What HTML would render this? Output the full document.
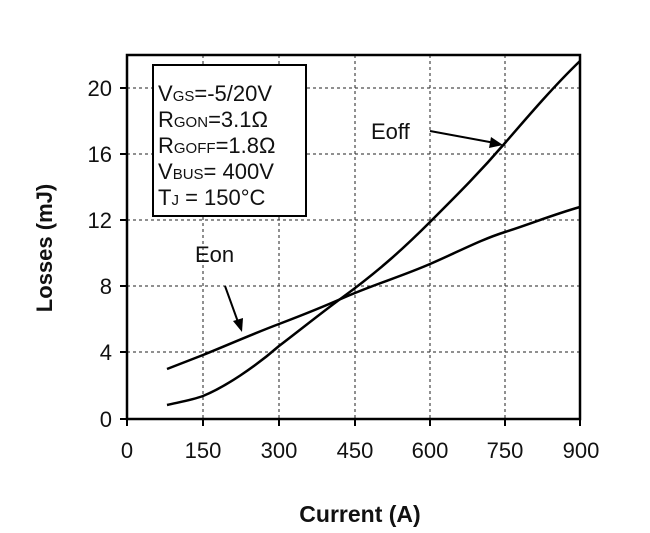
<!DOCTYPE html>
<html><head><meta charset="utf-8"><style>
body{margin:0;background:#fff;}
svg{display:block;font-family:"Liberation Sans",Arial,sans-serif;}
</style></head><body>
<svg width="650" height="533" viewBox="0 0 650 533">
<g stroke="#222" stroke-width="1" stroke-dasharray="3,3">
<line x1="203" y1="55" x2="203" y2="419"/>
<line x1="279" y1="55" x2="279" y2="419"/>
<line x1="355" y1="55" x2="355" y2="419"/>
<line x1="430" y1="55" x2="430" y2="419"/>
<line x1="505" y1="55" x2="505" y2="419"/>
<line x1="127" y1="88" x2="580" y2="88"/>
<line x1="127" y1="154" x2="580" y2="154"/>
<line x1="127" y1="220" x2="580" y2="220"/>
<line x1="127" y1="286" x2="580" y2="286"/>
<line x1="127" y1="352" x2="580" y2="352"/>
</g>
<rect x="127" y="55" width="453" height="364" fill="none" stroke="#000" stroke-width="2.5"/>
<g stroke="#000" stroke-width="2">
<line x1="120" y1="88" x2="127" y2="88"/><line x1="120" y1="154" x2="127" y2="154"/><line x1="120" y1="220" x2="127" y2="220"/><line x1="120" y1="286" x2="127" y2="286"/><line x1="120" y1="352" x2="127" y2="352"/><line x1="120" y1="419" x2="127" y2="419"/>
<line x1="127" y1="419" x2="127" y2="426"/><line x1="203" y1="419" x2="203" y2="426"/><line x1="279" y1="419" x2="279" y2="426"/><line x1="355" y1="419" x2="355" y2="426"/><line x1="430" y1="419" x2="430" y2="426"/><line x1="505" y1="419" x2="505" y2="426"/><line x1="580" y1="419" x2="580" y2="426"/>
</g>
<g font-size="22" fill="#111" text-anchor="end">
<text x="112" y="96">20</text><text x="112" y="162">16</text><text x="112" y="228">12</text><text x="112" y="294">8</text><text x="112" y="360">4</text><text x="112" y="427">0</text>
</g>
<g font-size="22" fill="#111" text-anchor="middle">
<text x="127" y="458">0</text><text x="203" y="458">150</text><text x="279" y="458">300</text><text x="355" y="458">450</text><text x="430" y="458">600</text><text x="505" y="458">750</text><text x="581" y="458">900</text>
</g>
<text x="360" y="522" font-size="23" font-weight="bold" text-anchor="middle" fill="#111">Current (A)</text>
<text transform="translate(52,248) rotate(-90)" font-size="22" font-weight="bold" text-anchor="middle" fill="#111">Losses (mJ)</text>
<rect x="153" y="65" width="153" height="151" fill="#fff" stroke="#000" stroke-width="2"/>
<g font-size="22" fill="#111">
<text x="158" y="101">V<tspan font-size="15">GS</tspan>=-5/20V</text>
<text x="158" y="127">R<tspan font-size="15">GON</tspan>=3.1Ω</text>
<text x="158" y="153">R<tspan font-size="15">GOFF</tspan>=1.8Ω</text>
<text x="158" y="179">V<tspan font-size="15">BUS</tspan>= 400V</text>
<text x="158" y="205">T<tspan font-size="15">J</tspan> = 150°C</text>
</g>
<g fill="none" stroke="#000" stroke-width="2.5">
<path d="M167,369 C180,364 190,360 203,355 C230,344 255,333 279,324 C300,316 325,306 343,298 C375,284 400,277 430,264 C460,251 480,240 505,232 C530,224 555,214 580,207"/>
<path d="M167,405 C180,402 192,400 203,396 C225,387 255,367 279,346 C300,330 325,310 343,297 C380,270 405,247 430,222 C460,192 480,172 505,143 C530,114 555,85 580,61"/>
</g>
<g font-size="22" fill="#111"><text x="371" y="139">Eoff</text><text x="195" y="262">Eon</text></g>
<g stroke="#000" stroke-width="2"><line x1="430" y1="131" x2="495" y2="143"/><line x1="225" y1="286" x2="238" y2="322"/></g>
<polygon points="503,145 491,137 489,148" fill="#000"/>
<polygon points="242,332 233,321 243,318" fill="#000"/>
</svg>
</body></html>
